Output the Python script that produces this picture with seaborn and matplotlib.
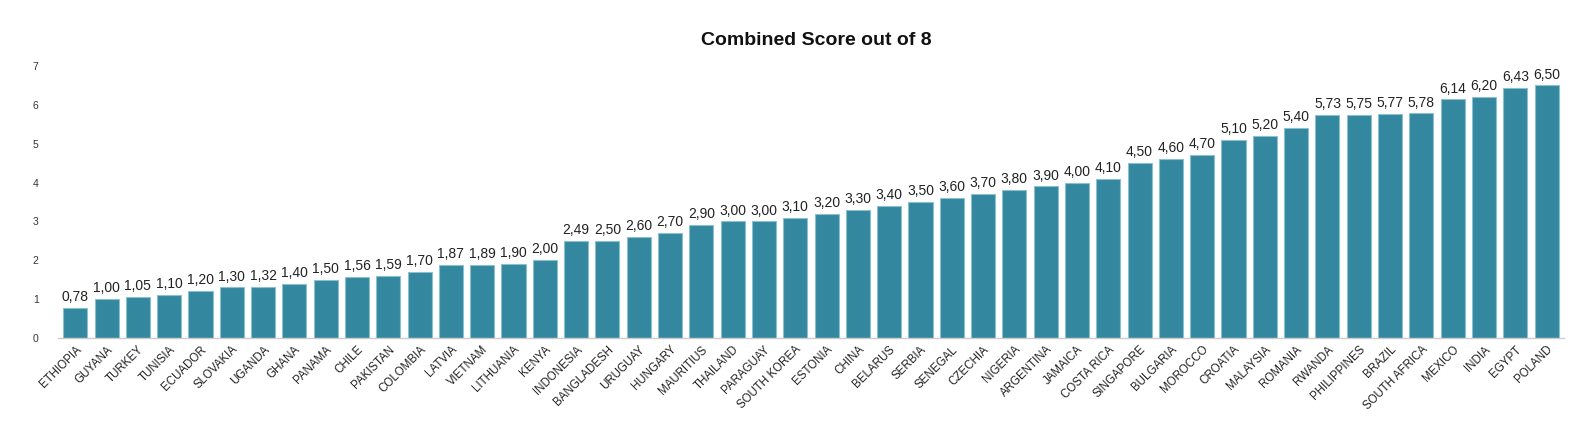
import pandas as pd
import numpy as np
import matplotlib
matplotlib.use("Agg")
import matplotlib.pyplot as plt
import seaborn as sns

countries = ["ETHIOPIA", "GUYANA", "TURKEY", "TUNISIA", "ECUADOR", "SLOVAKIA", "UGANDA",
             "GHANA", "PANAMA", "CHILE", "PAKISTAN", "COLOMBIA", "LATVIA", "VIETNAM",
             "LITHUANIA", "KENYA", "INDONESIA", "BANGLADESH", "URUGUAY", "HUNGARY",
             "MAURITIUS", "THAILAND", "PARAGUAY", "SOUTH KOREA", "ESTONIA", "CHINA",
             "BELARUS", "SERBIA", "SENEGAL", "CZECHIA", "NIGERIA", "ARGENTINA", "JAMAICA",
             "COSTA RICA", "SINGAPORE", "BULGARIA", "MOROCCO", "CROATIA", "MALAYSIA",
             "ROMANIA", "RWANDA", "PHILIPPINES", "BRAZIL", "SOUTH AFRICA", "MEXICO",
             "INDIA", "EGYPT", "POLAND"]
scores = [0.78, 1.00, 1.05, 1.10, 1.20, 1.30, 1.32, 1.40, 1.50, 1.56, 1.59, 1.70, 1.87,
          1.89, 1.90, 2.00, 2.49, 2.50, 2.60, 2.70, 2.90, 3.00, 3.00, 3.10, 3.20, 3.30,
          3.40, 3.50, 3.60, 3.70, 3.80, 3.90, 4.00, 4.10, 4.50, 4.60, 4.70, 5.10, 5.20,
          5.40, 5.73, 5.75, 5.77, 5.78, 6.14, 6.20, 6.43, 6.50]

df = pd.DataFrame({"Country": countries, "Score": scores})

sns.set_style("white")
plt.rcParams['font.family'] = ['Liberation Sans', 'DejaVu Sans']

fig = plt.figure(figsize=(15.86, 4.23), dpi=100)
ax = fig.add_axes([0.0366, 0.201, 0.9494, 0.643])

sns.barplot(data=df, x="Country", y="Score", color="#33879e", saturation=1,
            width=0.77, edgecolor="#8cc0cf", linewidth=0.8, ax=ax)

for i, v in enumerate(scores):
    ax.text(i, v + 0.1, f"{v:.2f}".replace(".", ","), ha="center", va="bottom",
            fontsize=10, color="#222222")

ax.set_ylim(0, 7)
ax.set_xlim(-0.55, len(countries) - 0.45)
ax.set_yticks(range(0, 8))
ax.tick_params(axis="y", labelsize=7.5, length=0, pad=14, colors="#333333")
ax.tick_params(axis="x", labelsize=8.3, length=0, pad=4, colors="#222222")
plt.setp(ax.get_xticklabels(), rotation=45, ha="right", rotation_mode="anchor")
ax.set_xlabel("")
ax.set_ylabel("")
for s in ["top", "right", "left"]:
    ax.spines[s].set_visible(False)
ax.spines["bottom"].set_color("#cccccc")
ax.spines["bottom"].set_linewidth(1)

fig.text(0.515, 0.905, "Combined Score out of 8", ha="center", va="center",
         fontsize=14, fontweight="bold", color="#111111", fontstretch="condensed")

fig.savefig("out.png", dpi=100)
